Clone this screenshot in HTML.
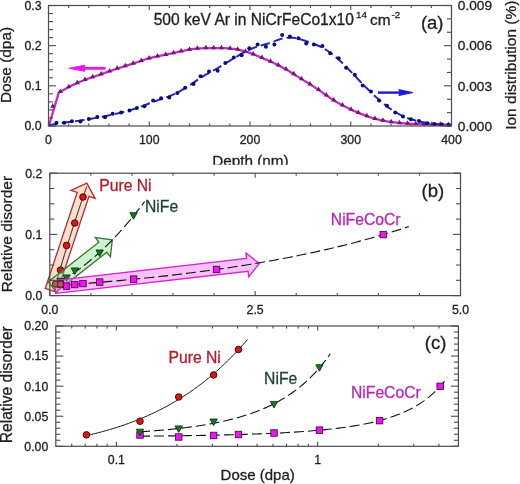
<!DOCTYPE html>
<html><head><meta charset="utf-8"><title>Figure</title>
<style>html,body{margin:0;padding:0;background:#fff;} svg{display:block;} text{font-family:'Liberation Sans', Arial, sans-serif;stroke-width:0.3px;}</style>
</head><body>
<svg width="520" height="484" viewBox="0 0 520 484">
<rect width="520" height="484" fill="#fff"/>
<path d="M48.8,126 L58.8,92.6 L60.4,91.74 L62.37,90.61 L64.33,89.48 L66.3,88.38 L68.26,87.31 L70.23,86.28 L72.19,85.3 L74.16,84.36 L76.12,83.47 L78.09,82.61 L80.05,81.79 L82.02,81 L83.98,80.24 L85.95,79.5 L87.91,78.79 L89.88,78.1 L91.85,77.41 L93.81,76.74 L95.78,76.06 L97.74,75.39 L99.71,74.71 L101.67,74.02 L103.64,73.33 L105.6,72.64 L107.57,71.95 L109.53,71.26 L111.5,70.58 L113.46,69.91 L115.43,69.25 L117.39,68.59 L119.36,67.94 L121.33,67.3 L123.29,66.66 L125.26,66.04 L127.22,65.42 L129.19,64.81 L131.15,64.19 L133.12,63.55 L135.08,62.9 L137.05,62.22 L139.01,61.54 L140.98,60.86 L142.94,60.18 L144.91,59.53 L146.87,58.92 L148.84,58.35 L150.81,57.84 L152.77,57.38 L154.74,56.95 L156.7,56.54 L158.67,56.14 L160.63,55.74 L162.6,55.33 L164.56,54.93 L166.53,54.51 L168.49,54.1 L170.46,53.68 L172.42,53.25 L174.39,52.82 L176.35,52.37 L178.32,51.92 L180.28,51.47 L182.25,51.03 L184.22,50.61 L186.18,50.21 L188.15,49.83 L190.11,49.49 L192.08,49.19 L194.04,48.93 L196.01,48.71 L197.97,48.53 L199.94,48.39 L201.9,48.29 L203.87,48.21 L205.83,48.16 L207.8,48.12 L209.76,48.1 L211.73,48.09 L213.7,48.07 L215.66,48.05 L217.63,48.04 L219.59,48.03 L221.56,48.05 L223.52,48.09 L225.49,48.17 L227.45,48.28 L229.42,48.42 L231.38,48.6 L233.35,48.83 L235.31,49.1 L237.28,49.43 L239.24,49.82 L241.21,50.27 L243.18,50.78 L245.14,51.35 L247.11,51.98 L249.07,52.66 L251.04,53.38 L253,54.14 L254.97,54.93 L256.93,55.74 L258.9,56.56 L260.86,57.4 L262.83,58.23 L264.79,59.07 L266.76,59.92 L268.72,60.77 L270.69,61.64 L272.66,62.53 L274.62,63.44 L276.59,64.38 L278.55,65.35 L280.52,66.35 L282.48,67.4 L284.45,68.48 L286.41,69.61 L288.38,70.78 L290.34,71.98 L292.31,73.2 L294.27,74.43 L296.24,75.67 L298.2,76.9 L300.17,78.14 L302.14,79.38 L304.1,80.61 L306.07,81.84 L308.03,83.08 L310,84.32 L311.96,85.56 L313.93,86.82 L315.89,88.1 L317.86,89.4 L319.82,90.75 L321.79,92.12 L323.75,93.5 L325.72,94.89 L327.68,96.27 L329.65,97.62 L331.62,98.94 L333.58,100.21 L335.55,101.43 L337.51,102.6 L339.48,103.71 L341.44,104.79 L343.41,105.83 L345.37,106.84 L347.34,107.82 L349.3,108.77 L351.27,109.69 L353.23,110.58 L355.2,111.45 L357.16,112.29 L359.13,113.11 L361.09,113.91 L363.06,114.69 L365.03,115.43 L366.99,116.15 L368.96,116.83 L370.92,117.48 L372.89,118.09 L374.85,118.66 L376.82,119.18 L378.78,119.67 L380.75,120.11 L382.71,120.53 L384.68,120.91 L386.64,121.27 L388.61,121.6 L390.57,121.9 L392.54,122.18 L394.51,122.44 L396.47,122.67 L398.44,122.88 L400.4,123.07 L402.37,123.24 L404.33,123.39 L406.3,123.53 L408.26,123.65 L410.23,123.77 L412.19,123.87 L414.16,123.96 L416.12,124.04 L418.09,124.12 L420.05,124.19 L422.02,124.25 L423.99,124.31 L425.95,124.36 L427.92,124.4 L429.88,124.45 L431.85,124.49 L433.81,124.52 L435.78,124.55 L437.74,124.58 L439.71,124.6 L441.67,124.63 L443.64,124.65 L445.6,124.68 L447.57,124.7 L449.53,124.72 L451.5,124.75" fill="none" stroke="#cc26cc" stroke-width="2.3" stroke-linejoin="round"/>
<path d="M52.7,103.29 L55.3,107.81 L50.1,107.81Z" fill="#6c1c70" stroke="none" stroke-width="0"/>
<path d="M60.4,88.43 L63,92.95 L57.8,92.95Z" fill="#6c1c70" stroke="none" stroke-width="0"/>
<path d="M68.8,83.71 L71.4,88.23 L66.2,88.23Z" fill="#6c1c70" stroke="none" stroke-width="0"/>
<path d="M77.3,79.63 L79.9,84.16 L74.7,84.16Z" fill="#6c1c70" stroke="none" stroke-width="0"/>
<path d="M85,76.54 L87.6,81.07 L82.4,81.07Z" fill="#6c1c70" stroke="none" stroke-width="0"/>
<path d="M92.7,73.8 L95.3,78.33 L90.1,78.33Z" fill="#6c1c70" stroke="none" stroke-width="0"/>
<path d="M101.2,70.87 L103.8,75.4 L98.6,75.4Z" fill="#6c1c70" stroke="none" stroke-width="0"/>
<path d="M109.6,67.92 L112.2,72.45 L107,72.45Z" fill="#6c1c70" stroke="none" stroke-width="0"/>
<path d="M117.2,65.34 L119.8,69.86 L114.6,69.86Z" fill="#6c1c70" stroke="none" stroke-width="0"/>
<path d="M125.3,62.71 L127.9,67.23 L122.7,67.23Z" fill="#6c1c70" stroke="none" stroke-width="0"/>
<path d="M133.2,60.21 L135.8,64.74 L130.6,64.74Z" fill="#6c1c70" stroke="none" stroke-width="0"/>
<path d="M141.3,57.43 L143.9,61.96 L138.7,61.96Z" fill="#6c1c70" stroke="none" stroke-width="0"/>
<path d="M149.2,54.93 L151.8,59.46 L146.6,59.46Z" fill="#6c1c70" stroke="none" stroke-width="0"/>
<path d="M157.5,53.07 L160.1,57.59 L154.9,57.59Z" fill="#6c1c70" stroke="none" stroke-width="0"/>
<path d="M165.7,51.37 L168.3,55.9 L163.1,55.9Z" fill="#6c1c70" stroke="none" stroke-width="0"/>
<path d="M173.5,49.7 L176.1,54.23 L170.9,54.23Z" fill="#6c1c70" stroke="none" stroke-width="0"/>
<path d="M181.1,47.97 L183.7,52.5 L178.5,52.5Z" fill="#6c1c70" stroke="none" stroke-width="0"/>
<path d="M189.5,46.28 L192.1,50.81 L186.9,50.81Z" fill="#6c1c70" stroke="none" stroke-width="0"/>
<path d="M197.4,45.27 L200,49.79 L194.8,49.79Z" fill="#6c1c70" stroke="none" stroke-width="0"/>
<path d="M205.9,44.84 L208.5,49.36 L203.3,49.36Z" fill="#6c1c70" stroke="none" stroke-width="0"/>
<path d="M213.7,44.76 L216.3,49.28 L211.1,49.28Z" fill="#6c1c70" stroke="none" stroke-width="0"/>
<path d="M221.4,44.73 L224,49.25 L218.8,49.25Z" fill="#6c1c70" stroke="none" stroke-width="0"/>
<path d="M230,45.16 L232.6,49.68 L227.4,49.68Z" fill="#6c1c70" stroke="none" stroke-width="0"/>
<path d="M237.7,46.2 L240.3,50.72 L235.1,50.72Z" fill="#6c1c70" stroke="none" stroke-width="0"/>
<path d="M245.5,48.14 L248.1,52.67 L242.9,52.67Z" fill="#6c1c70" stroke="none" stroke-width="0"/>
<path d="M253.2,50.9 L255.8,55.43 L250.6,55.43Z" fill="#6c1c70" stroke="none" stroke-width="0"/>
<path d="M262,54.57 L264.6,59.09 L259.4,59.09Z" fill="#6c1c70" stroke="none" stroke-width="0"/>
<path d="M270.5,58.24 L273.1,62.77 L267.9,62.77Z" fill="#6c1c70" stroke="none" stroke-width="0"/>
<path d="M278.3,61.91 L280.9,66.43 L275.7,66.43Z" fill="#6c1c70" stroke="none" stroke-width="0"/>
<path d="M286,66.06 L288.6,70.58 L283.4,70.58Z" fill="#6c1c70" stroke="none" stroke-width="0"/>
<path d="M293.8,70.82 L296.4,75.34 L291.2,75.34Z" fill="#6c1c70" stroke="none" stroke-width="0"/>
<path d="M301.5,75.66 L304.1,80.19 L298.9,80.19Z" fill="#6c1c70" stroke="none" stroke-width="0"/>
<path d="M310,81 L312.6,85.53 L307.4,85.53Z" fill="#6c1c70" stroke="none" stroke-width="0"/>
<path d="M318.6,86.59 L321.2,91.12 L316,91.12Z" fill="#6c1c70" stroke="none" stroke-width="0"/>
<path d="M326.3,91.99 L328.9,96.51 L323.7,96.51Z" fill="#6c1c70" stroke="none" stroke-width="0"/>
<path d="M333.8,97.04 L336.4,101.56 L331.2,101.56Z" fill="#6c1c70" stroke="none" stroke-width="0"/>
<path d="M342.5,102.04 L345.1,106.57 L339.9,106.57Z" fill="#6c1c70" stroke="none" stroke-width="0"/>
<path d="M351,106.25 L353.6,110.77 L348.4,110.77Z" fill="#6c1c70" stroke="none" stroke-width="0"/>
<path d="M358.3,109.45 L360.9,113.98 L355.7,113.98Z" fill="#6c1c70" stroke="none" stroke-width="0"/>
<path d="M366.8,112.77 L369.4,117.29 L364.2,117.29Z" fill="#6c1c70" stroke="none" stroke-width="0"/>
<path d="M375,115.38 L377.6,119.91 L372.4,119.91Z" fill="#6c1c70" stroke="none" stroke-width="0"/>
<path d="M383,117.27 L385.6,121.8 L380.4,121.8Z" fill="#6c1c70" stroke="none" stroke-width="0"/>
<path d="M391.2,118.68 L393.8,123.2 L388.6,123.2Z" fill="#6c1c70" stroke="none" stroke-width="0"/>
<path d="M399.5,119.67 L402.1,124.19 L396.9,124.19Z" fill="#6c1c70" stroke="none" stroke-width="0"/>
<path d="M407.6,120.3 L410.2,124.82 L405,124.82Z" fill="#6c1c70" stroke="none" stroke-width="0"/>
<path d="M415.8,120.71 L418.4,125.24 L413.2,125.24Z" fill="#6c1c70" stroke="none" stroke-width="0"/>
<path d="M424,120.99 L426.6,125.52 L421.4,125.52Z" fill="#6c1c70" stroke="none" stroke-width="0"/>
<path d="M432,121.17 L434.6,125.7 L429.4,125.7Z" fill="#6c1c70" stroke="none" stroke-width="0"/>
<path d="M440.3,121.3 L442.9,125.82 L437.7,125.82Z" fill="#6c1c70" stroke="none" stroke-width="0"/>
<path d="M448.4,121.39 L451,125.92 L445.8,125.92Z" fill="#6c1c70" stroke="none" stroke-width="0"/>
<path d="M48.5,125.4 L50.34,125.01 L52.18,124.62 L54.02,124.25 L55.86,123.9 L57.7,123.57 L59.54,123.27 L61.38,122.99 L63.22,122.72 L65.06,122.47 L66.9,122.23 L68.74,121.99 L70.58,121.77 L72.42,121.54 L74.26,121.32 L76.1,121.1 L77.94,120.87 L79.78,120.62 L81.62,120.35 L83.46,120.06 L85.3,119.76 L87.14,119.44 L88.98,119.11 L90.82,118.78 L92.66,118.45 L94.5,118.12 L96.34,117.78 L98.18,117.45 L100.03,117.12 L101.87,116.78 L103.71,116.44 L105.55,116.07 L107.39,115.69 L109.23,115.29 L111.07,114.89 L112.91,114.47 L114.75,114.06 L116.59,113.64 L118.43,113.21 L120.27,112.78 L122.11,112.33 L123.95,111.87 L125.79,111.4 L127.63,110.9 L129.47,110.39 L131.31,109.85 L133.15,109.29 L134.99,108.7 L136.83,108.09 L138.67,107.46 L140.51,106.81 L142.35,106.13 L144.19,105.44 L146.03,104.72 L147.87,103.99 L149.71,103.26 L151.55,102.54 L153.39,101.84 L155.23,101.16 L157.07,100.5 L158.91,99.86 L160.75,99.23 L162.59,98.61 L164.43,97.99 L166.27,97.34 L168.11,96.67 L169.95,95.95 L171.79,95.18 L173.63,94.36 L175.47,93.48 L177.31,92.55 L179.15,91.57 L180.99,90.54 L182.83,89.47 L184.67,88.36 L186.51,87.22 L188.35,86.05 L190.19,84.86 L192.03,83.64 L193.87,82.4 L195.71,81.15 L197.55,79.9 L199.39,78.67 L201.24,77.47 L203.08,76.32 L204.92,75.2 L206.76,74.12 L208.6,73.08 L210.44,72.06 L212.28,71.07 L214.12,70.08 L215.96,69.07 L217.8,68.04 L219.64,66.97 L221.48,65.86 L223.32,64.73 L225.16,63.59 L227,62.44 L228.84,61.3 L230.68,60.16 L232.52,59.04 L234.36,57.93 L236.2,56.84 L238.04,55.77 L239.88,54.72 L241.72,53.68 L243.56,52.66 L245.4,51.67 L247.24,50.71 L249.08,49.81 L250.92,48.97 L252.76,48.2 L254.6,47.49 L256.44,46.85 L258.28,46.27 L260.12,45.73 L261.96,45.23 L263.8,44.74 L265.64,44.23 L267.48,43.68 L269.32,43.09 L271.16,42.47 L273,41.81 L274.84,41.12 L276.68,40.42 L278.52,39.73 L280.36,39.1 L282.2,38.55 L284.04,38.13 L285.88,37.82 L287.72,37.64 L289.56,37.58 L291.4,37.64 L293.24,37.81 L295.08,38.09 L296.92,38.45 L298.76,38.89 L300.61,39.41 L302.45,39.97 L304.29,40.57 L306.13,41.19 L307.97,41.81 L309.81,42.44 L311.65,43.09 L313.49,43.76 L315.33,44.47 L317.17,45.21 L319.01,46.02 L320.85,46.89 L322.69,47.85 L324.53,48.89 L326.37,50.03 L328.21,51.24 L330.05,52.53 L331.89,53.9 L333.73,55.33 L335.57,56.83 L337.41,58.41 L339.25,60.06 L341.09,61.78 L342.93,63.55 L344.77,65.38 L346.61,67.23 L348.45,69.11 L350.29,71 L352.13,72.92 L353.97,74.85 L355.81,76.8 L357.65,78.75 L359.49,80.71 L361.33,82.64 L363.17,84.55 L365.01,86.43 L366.85,88.28 L368.69,90.1 L370.53,91.9 L372.37,93.66 L374.21,95.41 L376.05,97.11 L377.89,98.78 L379.73,100.4 L381.57,101.98 L383.41,103.5 L385.25,104.97 L387.09,106.39 L388.93,107.77 L390.77,109.09 L392.61,110.35 L394.45,111.54 L396.29,112.67 L398.13,113.72 L399.97,114.71 L401.82,115.62 L403.66,116.47 L405.5,117.25 L407.34,117.97 L409.18,118.64 L411.02,119.25 L412.86,119.81 L414.7,120.33 L416.54,120.82 L418.38,121.26 L420.22,121.68 L422.06,122.07 L423.9,122.44 L425.74,122.77 L427.58,123.07 L429.42,123.34 L431.26,123.59 L433.1,123.81 L434.94,124.01 L436.78,124.18 L438.62,124.35 L440.46,124.49 L442.3,124.63 L444.14,124.77 L445.98,124.89 L447.82,125.02 L449.66,125.15 L451.5,125.28" fill="none" stroke="#2424c0" stroke-width="2.0" stroke-dasharray="9.5,4"/>
<circle cx="56.5" cy="122.8" r="2.0" fill="#0c0c78"/>
<circle cx="64.2" cy="122.8" r="2.0" fill="#0c0c78"/>
<circle cx="71.9" cy="121.2" r="2.0" fill="#0c0c78"/>
<circle cx="80.4" cy="121.5" r="2.0" fill="#0c0c78"/>
<circle cx="88.8" cy="118.9" r="2.0" fill="#0c0c78"/>
<circle cx="97.3" cy="116.9" r="2.0" fill="#0c0c78"/>
<circle cx="105" cy="117.2" r="2.0" fill="#0c0c78"/>
<circle cx="112.7" cy="113.8" r="2.0" fill="#0c0c78"/>
<circle cx="121.2" cy="112.6" r="2.0" fill="#0c0c78"/>
<circle cx="129.5" cy="110.6" r="2.0" fill="#0c0c78"/>
<circle cx="136.9" cy="108.1" r="2.0" fill="#0c0c78"/>
<circle cx="144.4" cy="106.3" r="2.0" fill="#0c0c78"/>
<circle cx="153.1" cy="100.5" r="2.0" fill="#0c0c78"/>
<circle cx="161.1" cy="98.3" r="2.0" fill="#0c0c78"/>
<circle cx="169.2" cy="97.5" r="2.0" fill="#0c0c78"/>
<circle cx="177.3" cy="93.1" r="2.0" fill="#0c0c78"/>
<circle cx="185.2" cy="87.8" r="2.0" fill="#0c0c78"/>
<circle cx="193.5" cy="83.9" r="2.0" fill="#0c0c78"/>
<circle cx="200.5" cy="76.2" r="2.0" fill="#0c0c78"/>
<circle cx="209" cy="71.5" r="2.0" fill="#0c0c78"/>
<circle cx="217.6" cy="70.7" r="2.0" fill="#0c0c78"/>
<circle cx="225.3" cy="63" r="2.0" fill="#0c0c78"/>
<circle cx="233.8" cy="57.6" r="2.0" fill="#0c0c78"/>
<circle cx="241.6" cy="55.2" r="2.0" fill="#0c0c78"/>
<circle cx="249.3" cy="48.3" r="2.0" fill="#0c0c78"/>
<circle cx="257.6" cy="44.4" r="2.0" fill="#0c0c78"/>
<circle cx="265.9" cy="46.7" r="2.0" fill="#0c0c78"/>
<circle cx="274.4" cy="44.4" r="2.0" fill="#0c0c78"/>
<circle cx="282.1" cy="35.1" r="2.0" fill="#0c0c78"/>
<circle cx="289.9" cy="36.6" r="2.0" fill="#0c0c78"/>
<circle cx="298.4" cy="38.2" r="2.0" fill="#0c0c78"/>
<circle cx="306.2" cy="43.6" r="2.0" fill="#0c0c78"/>
<circle cx="313.9" cy="44.4" r="2.0" fill="#0c0c78"/>
<circle cx="322.4" cy="45.9" r="2.0" fill="#0c0c78"/>
<circle cx="330.2" cy="53.3" r="2.0" fill="#0c0c78"/>
<circle cx="338.7" cy="58.2" r="2.0" fill="#0c0c78"/>
<circle cx="346.1" cy="67.8" r="2.0" fill="#0c0c78"/>
<circle cx="354.8" cy="74.8" r="2.0" fill="#0c0c78"/>
<circle cx="362.7" cy="85.4" r="2.0" fill="#0c0c78"/>
<circle cx="371" cy="91.5" r="2.0" fill="#0c0c78"/>
<circle cx="379" cy="100.4" r="2.0" fill="#0c0c78"/>
<circle cx="387" cy="105.8" r="2.0" fill="#0c0c78"/>
<circle cx="395.2" cy="112.6" r="2.0" fill="#0c0c78"/>
<circle cx="403" cy="116.5" r="2.0" fill="#0c0c78"/>
<circle cx="410.8" cy="119.2" r="2.0" fill="#0c0c78"/>
<circle cx="419" cy="120.9" r="2.0" fill="#0c0c78"/>
<circle cx="427.2" cy="123.3" r="2.0" fill="#0c0c78"/>
<circle cx="434.5" cy="124.1" r="2.0" fill="#0c0c78"/>
<circle cx="441.9" cy="124.4" r="2.0" fill="#0c0c78"/>
<circle cx="448.4" cy="124.9" r="2.0" fill="#0c0c78"/>
<path d="M80,68.3 L105.5,68.3" stroke="#ee14ee" stroke-width="2.8"/>
<path d="M69.0,68.3 L84.5,65.3 L84.5,71.3 Z" fill="#ee14ee" stroke="#ee14ee" stroke-width="1" stroke-linejoin="round"/>
<path d="M378,92.6 L401,92.6" stroke="#1a1ad8" stroke-width="2.4"/>
<path d="M413.0,92.6 L398.8,89.6 L400.0,92.6 L398.8,95.6 Z" fill="#1a1ad8" stroke="#1a1ad8" stroke-width="0.9" stroke-linejoin="round"/>
<rect x="48.5" y="5.5" width="403" height="120.5" fill="none" stroke="#4c4c4c" stroke-width="1.2"/>
<line x1="48.5" y1="126" x2="48.5" y2="121.5" stroke="#4c4c4c" stroke-width="1.1" />
<line x1="48.5" y1="5.5" x2="48.5" y2="10" stroke="#4c4c4c" stroke-width="1.1" />
<line x1="149.25" y1="126" x2="149.25" y2="121.5" stroke="#4c4c4c" stroke-width="1.1" />
<line x1="149.25" y1="5.5" x2="149.25" y2="10" stroke="#4c4c4c" stroke-width="1.1" />
<line x1="250" y1="126" x2="250" y2="121.5" stroke="#4c4c4c" stroke-width="1.1" />
<line x1="250" y1="5.5" x2="250" y2="10" stroke="#4c4c4c" stroke-width="1.1" />
<line x1="350.75" y1="126" x2="350.75" y2="121.5" stroke="#4c4c4c" stroke-width="1.1" />
<line x1="350.75" y1="5.5" x2="350.75" y2="10" stroke="#4c4c4c" stroke-width="1.1" />
<line x1="451.5" y1="126" x2="451.5" y2="121.5" stroke="#4c4c4c" stroke-width="1.1" />
<line x1="451.5" y1="5.5" x2="451.5" y2="10" stroke="#4c4c4c" stroke-width="1.1" />
<line x1="68.65" y1="126" x2="68.65" y2="123.4" stroke="#4c4c4c" stroke-width="1.1" />
<line x1="68.65" y1="5.5" x2="68.65" y2="8.1" stroke="#4c4c4c" stroke-width="1.1" />
<line x1="88.8" y1="126" x2="88.8" y2="123.4" stroke="#4c4c4c" stroke-width="1.1" />
<line x1="88.8" y1="5.5" x2="88.8" y2="8.1" stroke="#4c4c4c" stroke-width="1.1" />
<line x1="108.95" y1="126" x2="108.95" y2="123.4" stroke="#4c4c4c" stroke-width="1.1" />
<line x1="108.95" y1="5.5" x2="108.95" y2="8.1" stroke="#4c4c4c" stroke-width="1.1" />
<line x1="129.1" y1="126" x2="129.1" y2="123.4" stroke="#4c4c4c" stroke-width="1.1" />
<line x1="129.1" y1="5.5" x2="129.1" y2="8.1" stroke="#4c4c4c" stroke-width="1.1" />
<line x1="169.4" y1="126" x2="169.4" y2="123.4" stroke="#4c4c4c" stroke-width="1.1" />
<line x1="169.4" y1="5.5" x2="169.4" y2="8.1" stroke="#4c4c4c" stroke-width="1.1" />
<line x1="189.55" y1="126" x2="189.55" y2="123.4" stroke="#4c4c4c" stroke-width="1.1" />
<line x1="189.55" y1="5.5" x2="189.55" y2="8.1" stroke="#4c4c4c" stroke-width="1.1" />
<line x1="209.7" y1="126" x2="209.7" y2="123.4" stroke="#4c4c4c" stroke-width="1.1" />
<line x1="209.7" y1="5.5" x2="209.7" y2="8.1" stroke="#4c4c4c" stroke-width="1.1" />
<line x1="229.85" y1="126" x2="229.85" y2="123.4" stroke="#4c4c4c" stroke-width="1.1" />
<line x1="229.85" y1="5.5" x2="229.85" y2="8.1" stroke="#4c4c4c" stroke-width="1.1" />
<line x1="270.15" y1="126" x2="270.15" y2="123.4" stroke="#4c4c4c" stroke-width="1.1" />
<line x1="270.15" y1="5.5" x2="270.15" y2="8.1" stroke="#4c4c4c" stroke-width="1.1" />
<line x1="290.3" y1="126" x2="290.3" y2="123.4" stroke="#4c4c4c" stroke-width="1.1" />
<line x1="290.3" y1="5.5" x2="290.3" y2="8.1" stroke="#4c4c4c" stroke-width="1.1" />
<line x1="310.45" y1="126" x2="310.45" y2="123.4" stroke="#4c4c4c" stroke-width="1.1" />
<line x1="310.45" y1="5.5" x2="310.45" y2="8.1" stroke="#4c4c4c" stroke-width="1.1" />
<line x1="330.6" y1="126" x2="330.6" y2="123.4" stroke="#4c4c4c" stroke-width="1.1" />
<line x1="330.6" y1="5.5" x2="330.6" y2="8.1" stroke="#4c4c4c" stroke-width="1.1" />
<line x1="370.9" y1="126" x2="370.9" y2="123.4" stroke="#4c4c4c" stroke-width="1.1" />
<line x1="370.9" y1="5.5" x2="370.9" y2="8.1" stroke="#4c4c4c" stroke-width="1.1" />
<line x1="391.05" y1="126" x2="391.05" y2="123.4" stroke="#4c4c4c" stroke-width="1.1" />
<line x1="391.05" y1="5.5" x2="391.05" y2="8.1" stroke="#4c4c4c" stroke-width="1.1" />
<line x1="411.2" y1="126" x2="411.2" y2="123.4" stroke="#4c4c4c" stroke-width="1.1" />
<line x1="411.2" y1="5.5" x2="411.2" y2="8.1" stroke="#4c4c4c" stroke-width="1.1" />
<line x1="431.35" y1="126" x2="431.35" y2="123.4" stroke="#4c4c4c" stroke-width="1.1" />
<line x1="431.35" y1="5.5" x2="431.35" y2="8.1" stroke="#4c4c4c" stroke-width="1.1" />
<line x1="48.5" y1="126" x2="56" y2="126" stroke="#4c4c4c" stroke-width="1.1" />
<line x1="48.5" y1="85.83" x2="56" y2="85.83" stroke="#4c4c4c" stroke-width="1.1" />
<line x1="48.5" y1="45.67" x2="56" y2="45.67" stroke="#4c4c4c" stroke-width="1.1" />
<line x1="48.5" y1="5.5" x2="56" y2="5.5" stroke="#4c4c4c" stroke-width="1.1" />
<line x1="48.5" y1="117.97" x2="53" y2="117.97" stroke="#4c4c4c" stroke-width="1.1" />
<line x1="48.5" y1="109.93" x2="53" y2="109.93" stroke="#4c4c4c" stroke-width="1.1" />
<line x1="48.5" y1="101.9" x2="53" y2="101.9" stroke="#4c4c4c" stroke-width="1.1" />
<line x1="48.5" y1="93.87" x2="53" y2="93.87" stroke="#4c4c4c" stroke-width="1.1" />
<line x1="48.5" y1="77.8" x2="53" y2="77.8" stroke="#4c4c4c" stroke-width="1.1" />
<line x1="48.5" y1="69.77" x2="53" y2="69.77" stroke="#4c4c4c" stroke-width="1.1" />
<line x1="48.5" y1="61.73" x2="53" y2="61.73" stroke="#4c4c4c" stroke-width="1.1" />
<line x1="48.5" y1="53.7" x2="53" y2="53.7" stroke="#4c4c4c" stroke-width="1.1" />
<line x1="48.5" y1="37.63" x2="53" y2="37.63" stroke="#4c4c4c" stroke-width="1.1" />
<line x1="48.5" y1="29.6" x2="53" y2="29.6" stroke="#4c4c4c" stroke-width="1.1" />
<line x1="48.5" y1="21.57" x2="53" y2="21.57" stroke="#4c4c4c" stroke-width="1.1" />
<line x1="48.5" y1="13.53" x2="53" y2="13.53" stroke="#4c4c4c" stroke-width="1.1" />
<line x1="451.5" y1="126" x2="444" y2="126" stroke="#4c4c4c" stroke-width="1.1" />
<line x1="451.5" y1="85.83" x2="444" y2="85.83" stroke="#4c4c4c" stroke-width="1.1" />
<line x1="451.5" y1="45.67" x2="444" y2="45.67" stroke="#4c4c4c" stroke-width="1.1" />
<line x1="451.5" y1="5.5" x2="444" y2="5.5" stroke="#4c4c4c" stroke-width="1.1" />
<line x1="451.5" y1="112.61" x2="447" y2="112.61" stroke="#4c4c4c" stroke-width="1.1" />
<line x1="451.5" y1="99.22" x2="447" y2="99.22" stroke="#4c4c4c" stroke-width="1.1" />
<line x1="451.5" y1="72.44" x2="447" y2="72.44" stroke="#4c4c4c" stroke-width="1.1" />
<line x1="451.5" y1="59.06" x2="447" y2="59.06" stroke="#4c4c4c" stroke-width="1.1" />
<line x1="451.5" y1="32.28" x2="447" y2="32.28" stroke="#4c4c4c" stroke-width="1.1" />
<line x1="451.5" y1="18.89" x2="447" y2="18.89" stroke="#4c4c4c" stroke-width="1.1" />
<text x="41.6" y="130.4" font-size="12.3" text-anchor="end" fill="#1e1e1e" stroke="#1e1e1e" >0.0</text>
<text x="41.6" y="90.23" font-size="12.3" text-anchor="end" fill="#1e1e1e" stroke="#1e1e1e" >0.1</text>
<text x="41.6" y="50.07" font-size="12.3" text-anchor="end" fill="#1e1e1e" stroke="#1e1e1e" >0.2</text>
<text x="41.6" y="9.9" font-size="12.3" text-anchor="end" fill="#1e1e1e" stroke="#1e1e1e" >0.3</text>
<text x="457.8" y="130.8" font-size="13.7" text-anchor="start" fill="#1e1e1e" stroke="#1e1e1e" >0.000</text>
<text x="457.8" y="90.63" font-size="13.7" text-anchor="start" fill="#1e1e1e" stroke="#1e1e1e" >0.003</text>
<text x="457.8" y="50.47" font-size="13.7" text-anchor="start" fill="#1e1e1e" stroke="#1e1e1e" >0.006</text>
<text x="457.8" y="10.3" font-size="13.7" text-anchor="start" fill="#1e1e1e" stroke="#1e1e1e" >0.009</text>
<text x="48.5" y="144.2" font-size="12.3" text-anchor="middle" fill="#1e1e1e" stroke="#1e1e1e" >0</text>
<text x="149.25" y="144.2" font-size="12.3" text-anchor="middle" fill="#1e1e1e" stroke="#1e1e1e" >100</text>
<text x="250" y="144.2" font-size="12.3" text-anchor="middle" fill="#1e1e1e" stroke="#1e1e1e" >200</text>
<text x="350.75" y="144.2" font-size="12.3" text-anchor="middle" fill="#1e1e1e" stroke="#1e1e1e" >300</text>
<text x="451.5" y="144.2" font-size="12.3" text-anchor="middle" fill="#1e1e1e" stroke="#1e1e1e" >400</text>
<text x="153.7" y="24.5" font-size="15.6" fill="#1e1e1e" stroke="#1e1e1e">500 keV Ar in NiCrFeCo1x10</text>
<text x="356" y="17.7" font-size="9.8" text-anchor="start" fill="#1e1e1e" stroke="#1e1e1e" >14</text>
<text x="370" y="24.5" font-size="15.4" text-anchor="start" fill="#1e1e1e" stroke="#1e1e1e" >cm</text>
<text x="391.6" y="17.7" font-size="9.8" text-anchor="start" fill="#1e1e1e" stroke="#1e1e1e" >-2</text>
<text x="432.2" y="29.3" font-size="18.5" text-anchor="middle" fill="#1e1e1e" stroke="#1e1e1e" >(a)</text>
<text transform="translate(11.3,65.0) rotate(-90)" font-size="15.4" text-anchor="middle" fill="#1e1e1e" stroke="#1e1e1e">Dose (dpa)</text>
<text transform="translate(516.0,65.2) rotate(-90)" font-size="15.5" text-anchor="middle" fill="#1e1e1e" stroke="#1e1e1e">Ion distribution (%)</text>
<clipPath id="dclip"><rect x="150" y="145" width="200" height="19.7"/></clipPath>
<text x="250.4" y="165.6" font-size="15.3" text-anchor="middle" fill="#1e1e1e" stroke="#1e1e1e" clip-path="url(#dclip)">Depth (nm)</text>
<path d="M57.03,292.36 L88.96,196.35 L95.17,198.42 L86.8,183.2 L70.98,190.37 L77.19,192.44 L45.27,288.44Z" fill="#f5a070" fill-opacity="0.36" stroke="#a83030" stroke-width="1.3" stroke-linejoin="miter"/>
<path d="M55.63,284.74 L55.89,283.83 L56.16,282.92 L56.42,282.01 L56.68,281.1 L56.94,280.19 L57.2,279.28 L57.46,278.38 L57.72,277.47 L57.99,276.57 L58.25,275.67 L58.51,274.77 L58.77,273.88 L59.03,272.98 L59.29,272.08 L59.56,271.19 L59.82,270.3 L60.08,269.41 L60.34,268.52 L60.6,267.64 L60.86,266.75 L61.13,265.87 L61.39,264.98 L61.65,264.1 L61.91,263.22 L62.17,262.35 L62.43,261.47 L62.7,260.59 L62.96,259.72 L63.22,258.85 L63.48,257.98 L63.74,257.11 L64,256.24 L64.26,255.38 L64.53,254.51 L64.79,253.65 L65.05,252.79 L65.31,251.93 L65.57,251.07 L65.83,250.21 L66.1,249.36 L66.36,248.5 L66.62,247.65 L66.88,246.8 L67.14,245.95 L67.4,245.1 L67.67,244.26 L67.93,243.41 L68.19,242.57 L68.45,241.73 L68.71,240.89 L68.97,240.05 L69.24,239.21 L69.5,238.38 L69.76,237.54 L70.02,236.71 L70.28,235.88 L70.54,235.05 L70.81,234.22 L71.07,233.39 L71.33,232.57 L71.59,231.74 L71.85,230.92 L72.11,230.1 L72.37,229.28 L72.64,228.46 L72.9,227.65 L73.16,226.83 L73.42,226.02 L73.68,225.21 L73.94,224.4 L74.21,223.59 L74.47,222.78 L74.73,221.98 L74.99,221.17 L75.25,220.37 L75.51,219.57 L75.78,218.77 L76.04,217.97 L76.3,217.17 L76.56,216.38 L76.82,215.59 L77.08,214.79 L77.35,214 L77.61,213.21 L77.87,212.43 L78.13,211.64 L78.39,210.86 L78.65,210.07 L78.91,209.29 L79.18,208.51 L79.44,207.73 L79.7,206.95 L79.96,206.18 L80.22,205.41 L80.48,204.63 L80.75,203.86 L81.01,203.09 L81.27,202.32 L81.53,201.56 L81.79,200.79 L82.05,200.03 L82.32,199.27 L82.58,198.51 L82.84,197.75 L83.1,196.99 L83.36,196.23 L83.62,195.48 L83.89,194.73 L84.15,193.97 L84.41,193.22 L84.67,192.48 L84.93,191.73 L85.19,190.98 L85.45,190.24 L85.72,189.5 L85.98,188.76 L86.24,188.02 L86.5,187.28 L86.76,186.54" fill="none" stroke="#111" stroke-width="1"/>
<circle cx="55.63" cy="283.97" r="3.3" fill="#e01414" stroke="#3a0000" stroke-width="0.9"/>
<circle cx="60.56" cy="270.08" r="3.3" fill="#e01414" stroke="#3a0000" stroke-width="0.9"/>
<circle cx="66.56" cy="245.42" r="3.3" fill="#e01414" stroke="#3a0000" stroke-width="0.9"/>
<circle cx="74.77" cy="223.02" r="3.3" fill="#e01414" stroke="#3a0000" stroke-width="0.9"/>
<circle cx="82.98" cy="197.07" r="3.3" fill="#e01414" stroke="#3a0000" stroke-width="0.9"/>
<path d="M56.15,291.94 L106.8,252.24 L110.41,256.84 L112.3,239.8 L95.3,237.56 L98.91,242.16 L48.25,281.86Z" fill="#90e890" fill-opacity="0.45" stroke="#347434" stroke-width="1.3" stroke-linejoin="miter"/>
<path d="M60.56,280.89 L61.27,280.5 L61.97,280.1 L62.68,279.71 L63.39,279.3 L64.09,278.89 L64.8,278.48 L65.51,278.06 L66.21,277.64 L66.92,277.21 L67.63,276.78 L68.34,276.34 L69.04,275.9 L69.75,275.46 L70.46,275.01 L71.16,274.55 L71.87,274.09 L72.58,273.63 L73.28,273.16 L73.99,272.68 L74.7,272.2 L75.4,271.72 L76.11,271.23 L76.82,270.74 L77.52,270.24 L78.23,269.74 L78.94,269.23 L79.64,268.72 L80.35,268.2 L81.06,267.68 L81.76,267.15 L82.47,266.62 L83.18,266.09 L83.89,265.55 L84.59,265 L85.3,264.45 L86.01,263.9 L86.71,263.34 L87.42,262.77 L88.13,262.21 L88.83,261.63 L89.54,261.06 L90.25,260.47 L90.95,259.89 L91.66,259.29 L92.37,258.7 L93.07,258.1 L93.78,257.49 L94.49,256.88 L95.19,256.26 L95.9,255.64 L96.61,255.02 L97.31,254.39 L98.02,253.75 L98.73,253.11 L99.44,252.47 L100.14,251.82 L100.85,251.17 L101.56,250.51 L102.26,249.85 L102.97,249.18 L103.68,248.51 L104.38,247.83 L105.09,247.15 L105.8,246.46 L106.5,245.77 L107.21,245.08 L107.92,244.38 L108.62,243.67 L109.33,242.96 L110.04,242.25 L110.74,241.53 L111.45,240.81 L112.16,240.08 L112.86,239.34 L113.57,238.61 L114.28,237.86 L114.99,237.12 L115.69,236.36 L116.4,235.61 L117.11,234.85 L117.81,234.08 L118.52,233.31 L119.23,232.53 L119.93,231.75 L120.64,230.97 L121.35,230.18 L122.05,229.38 L122.76,228.58 L123.47,227.78 L124.17,226.97 L124.88,226.16 L125.59,225.34 L126.29,224.52 L127,223.69 L127.71,222.86 L128.41,222.02 L129.12,221.18 L129.83,220.33 L130.54,219.48 L131.24,218.63 L131.95,217.77 L132.66,216.9 L133.36,216.03 L134.07,215.16 L134.78,214.28 L135.48,213.39 L136.19,212.51 L136.9,211.61 L137.6,210.71 L138.31,209.81 L139.02,208.9 L139.72,207.99 L140.43,207.08 L141.14,206.15 L141.84,205.23 L142.55,204.3 L143.26,203.36 L143.96,202.42 L144.67,201.48" fill="none" stroke="#111" stroke-width="1.1" stroke-dasharray="10,4"/>
<path d="M56.86,278.25 L64.26,278.25 L60.56,284.85Z" fill="#127a22" stroke="#062a06" stroke-width="0.8"/>
<path d="M62.86,274.88 L70.26,274.88 L66.56,281.48Z" fill="#127a22" stroke="#062a06" stroke-width="0.8"/>
<path d="M71.07,267.91 L78.47,267.91 L74.77,274.51Z" fill="#127a22" stroke="#062a06" stroke-width="0.8"/>
<path d="M95.96,249.97 L103.36,249.97 L99.66,256.57Z" fill="#127a22" stroke="#062a06" stroke-width="0.8"/>
<path d="M129.88,212.64 L137.28,212.64 L133.58,219.24Z" fill="#127a22" stroke="#062a06" stroke-width="0.8"/>
<path d="M55.74,293.41 L248.12,271.28 L248.75,276.79 L259.3,263.5 L246.01,252.95 L246.64,258.46 L54.26,280.59Z" fill="#f070f0" fill-opacity="0.45" stroke="#d424d4" stroke-width="1.3" stroke-linejoin="miter"/>
<path d="M60.56,285.31 L63.49,285.1 L66.41,284.89 L69.34,284.68 L72.26,284.46 L75.19,284.24 L78.12,284.02 L81.04,283.8 L83.97,283.57 L86.89,283.34 L89.82,283.11 L92.75,282.87 L95.67,282.63 L98.6,282.39 L101.52,282.14 L104.45,281.89 L107.38,281.64 L110.3,281.38 L113.23,281.12 L116.15,280.86 L119.08,280.6 L122.01,280.33 L124.93,280.05 L127.86,279.78 L130.78,279.5 L133.71,279.21 L136.64,278.93 L139.56,278.63 L142.49,278.34 L145.41,278.04 L148.34,277.74 L151.27,277.43 L154.19,277.12 L157.12,276.8 L160.04,276.49 L162.97,276.16 L165.9,275.83 L168.82,275.5 L171.75,275.17 L174.67,274.83 L177.6,274.48 L180.53,274.13 L183.45,273.78 L186.38,273.42 L189.3,273.06 L192.23,272.69 L195.16,272.32 L198.08,271.94 L201.01,271.55 L203.93,271.17 L206.86,270.77 L209.79,270.38 L212.71,269.97 L215.64,269.56 L218.56,269.15 L221.49,268.73 L224.42,268.31 L227.34,267.88 L230.27,267.44 L233.19,267 L236.12,266.55 L239.05,266.1 L241.97,265.64 L244.9,265.17 L247.82,264.7 L250.75,264.23 L253.67,263.74 L256.6,263.25 L259.53,262.76 L262.45,262.25 L265.38,261.74 L268.3,261.23 L271.23,260.7 L274.16,260.17 L277.08,259.64 L280.01,259.09 L282.93,258.54 L285.86,257.99 L288.79,257.42 L291.71,256.85 L294.64,256.27 L297.56,255.68 L300.49,255.08 L303.42,254.48 L306.34,253.87 L309.27,253.25 L312.19,252.62 L315.12,251.99 L318.05,251.34 L320.97,250.69 L323.9,250.03 L326.82,249.36 L329.75,248.68 L332.68,248 L335.6,247.3 L338.53,246.6 L341.45,245.88 L344.38,245.16 L347.31,244.42 L350.23,243.68 L353.16,242.93 L356.08,242.17 L359.01,241.39 L361.94,240.61 L364.86,239.82 L367.79,239.02 L370.71,238.2 L373.64,237.38 L376.57,236.54 L379.49,235.7 L382.42,234.84 L385.34,233.97 L388.27,233.09 L391.2,232.2 L394.12,231.3 L397.05,230.39 L399.97,229.46 L402.9,228.52 L405.83,227.57 L408.75,226.61" fill="none" stroke="#111" stroke-width="1.1" stroke-dasharray="10,4"/>
<rect x="57.31" y="280.84" width="6.5" height="6.5" fill="#ee14ee" stroke="#3a003a" stroke-width="0.8"/>
<rect x="63.31" y="282.86" width="6.5" height="6.5" fill="#ee14ee" stroke="#3a003a" stroke-width="0.8"/>
<rect x="71.52" y="281.33" width="6.5" height="6.5" fill="#ee14ee" stroke="#3a003a" stroke-width="0.8"/>
<rect x="79.73" y="280.35" width="6.5" height="6.5" fill="#ee14ee" stroke="#3a003a" stroke-width="0.8"/>
<rect x="96.41" y="278.82" width="6.5" height="6.5" fill="#ee14ee" stroke="#3a003a" stroke-width="0.8"/>
<rect x="130.33" y="275.89" width="6.5" height="6.5" fill="#ee14ee" stroke="#3a003a" stroke-width="0.8"/>
<rect x="213.29" y="266.22" width="6.5" height="6.5" fill="#ee14ee" stroke="#3a003a" stroke-width="0.8"/>
<rect x="380.04" y="231.33" width="6.5" height="6.5" fill="#ee14ee" stroke="#3a003a" stroke-width="0.8"/>
<circle cx="55.4" cy="284.0" r="3.1" fill="#b05a5a" stroke="#5a2020" stroke-width="0.9"/>
<circle cx="60.4" cy="284.3" r="3.1" fill="#b05a5a" stroke="#5a2020" stroke-width="0.9"/>
<rect x="49.8" y="173.2" width="410.7" height="122.4" fill="none" stroke="#4c4c4c" stroke-width="1.2"/>
<line x1="49.8" y1="295.6" x2="49.8" y2="291.1" stroke="#4c4c4c" stroke-width="1.1" />
<line x1="49.8" y1="173.2" x2="49.8" y2="177.7" stroke="#4c4c4c" stroke-width="1.1" />
<line x1="255.15" y1="295.6" x2="255.15" y2="291.1" stroke="#4c4c4c" stroke-width="1.1" />
<line x1="255.15" y1="173.2" x2="255.15" y2="177.7" stroke="#4c4c4c" stroke-width="1.1" />
<line x1="460.5" y1="295.6" x2="460.5" y2="291.1" stroke="#4c4c4c" stroke-width="1.1" />
<line x1="460.5" y1="173.2" x2="460.5" y2="177.7" stroke="#4c4c4c" stroke-width="1.1" />
<line x1="90.87" y1="295.6" x2="90.87" y2="293" stroke="#4c4c4c" stroke-width="1.1" />
<line x1="90.87" y1="173.2" x2="90.87" y2="175.8" stroke="#4c4c4c" stroke-width="1.1" />
<line x1="131.94" y1="295.6" x2="131.94" y2="293" stroke="#4c4c4c" stroke-width="1.1" />
<line x1="131.94" y1="173.2" x2="131.94" y2="175.8" stroke="#4c4c4c" stroke-width="1.1" />
<line x1="173.01" y1="295.6" x2="173.01" y2="293" stroke="#4c4c4c" stroke-width="1.1" />
<line x1="173.01" y1="173.2" x2="173.01" y2="175.8" stroke="#4c4c4c" stroke-width="1.1" />
<line x1="214.08" y1="295.6" x2="214.08" y2="293" stroke="#4c4c4c" stroke-width="1.1" />
<line x1="214.08" y1="173.2" x2="214.08" y2="175.8" stroke="#4c4c4c" stroke-width="1.1" />
<line x1="296.22" y1="295.6" x2="296.22" y2="293" stroke="#4c4c4c" stroke-width="1.1" />
<line x1="296.22" y1="173.2" x2="296.22" y2="175.8" stroke="#4c4c4c" stroke-width="1.1" />
<line x1="337.29" y1="295.6" x2="337.29" y2="293" stroke="#4c4c4c" stroke-width="1.1" />
<line x1="337.29" y1="173.2" x2="337.29" y2="175.8" stroke="#4c4c4c" stroke-width="1.1" />
<line x1="378.36" y1="295.6" x2="378.36" y2="293" stroke="#4c4c4c" stroke-width="1.1" />
<line x1="378.36" y1="173.2" x2="378.36" y2="175.8" stroke="#4c4c4c" stroke-width="1.1" />
<line x1="419.43" y1="295.6" x2="419.43" y2="293" stroke="#4c4c4c" stroke-width="1.1" />
<line x1="419.43" y1="173.2" x2="419.43" y2="175.8" stroke="#4c4c4c" stroke-width="1.1" />
<line x1="49.8" y1="295.6" x2="57.3" y2="295.6" stroke="#4c4c4c" stroke-width="1.1" />
<line x1="49.8" y1="234.4" x2="57.3" y2="234.4" stroke="#4c4c4c" stroke-width="1.1" />
<line x1="49.8" y1="173.2" x2="57.3" y2="173.2" stroke="#4c4c4c" stroke-width="1.1" />
<line x1="49.8" y1="280.3" x2="54.3" y2="280.3" stroke="#4c4c4c" stroke-width="1.1" />
<line x1="49.8" y1="265" x2="54.3" y2="265" stroke="#4c4c4c" stroke-width="1.1" />
<line x1="49.8" y1="249.7" x2="54.3" y2="249.7" stroke="#4c4c4c" stroke-width="1.1" />
<line x1="49.8" y1="219.1" x2="54.3" y2="219.1" stroke="#4c4c4c" stroke-width="1.1" />
<line x1="49.8" y1="203.8" x2="54.3" y2="203.8" stroke="#4c4c4c" stroke-width="1.1" />
<line x1="49.8" y1="188.5" x2="54.3" y2="188.5" stroke="#4c4c4c" stroke-width="1.1" />
<line x1="460.5" y1="295.6" x2="453" y2="295.6" stroke="#4c4c4c" stroke-width="1.1" />
<line x1="460.5" y1="234.4" x2="453" y2="234.4" stroke="#4c4c4c" stroke-width="1.1" />
<line x1="460.5" y1="173.2" x2="453" y2="173.2" stroke="#4c4c4c" stroke-width="1.1" />
<line x1="460.5" y1="280.3" x2="456" y2="280.3" stroke="#4c4c4c" stroke-width="1.1" />
<line x1="460.5" y1="265" x2="456" y2="265" stroke="#4c4c4c" stroke-width="1.1" />
<line x1="460.5" y1="249.7" x2="456" y2="249.7" stroke="#4c4c4c" stroke-width="1.1" />
<line x1="460.5" y1="219.1" x2="456" y2="219.1" stroke="#4c4c4c" stroke-width="1.1" />
<line x1="460.5" y1="203.8" x2="456" y2="203.8" stroke="#4c4c4c" stroke-width="1.1" />
<line x1="460.5" y1="188.5" x2="456" y2="188.5" stroke="#4c4c4c" stroke-width="1.1" />
<text x="42.4" y="300" font-size="12.3" text-anchor="end" fill="#1e1e1e" stroke="#1e1e1e" >0.0</text>
<text x="42.4" y="238.8" font-size="12.3" text-anchor="end" fill="#1e1e1e" stroke="#1e1e1e" >0.1</text>
<text x="42.4" y="177.6" font-size="12.3" text-anchor="end" fill="#1e1e1e" stroke="#1e1e1e" >0.2</text>
<text x="49.8" y="314" font-size="12.3" text-anchor="middle" fill="#1e1e1e" stroke="#1e1e1e" >0.0</text>
<text x="255.15" y="314" font-size="12.3" text-anchor="middle" fill="#1e1e1e" stroke="#1e1e1e" >2.5</text>
<text x="460.5" y="314" font-size="12.3" text-anchor="middle" fill="#1e1e1e" stroke="#1e1e1e" >5.0</text>
<text x="432.9" y="197.3" font-size="18.5" text-anchor="middle" fill="#1e1e1e" stroke="#1e1e1e" >(b)</text>
<text transform="translate(11.6,234.0) rotate(-90)" font-size="15.5" text-anchor="middle" fill="#1e1e1e" stroke="#1e1e1e">Relative disorder</text>
<text x="99.3" y="190.6" font-size="15.7" text-anchor="start" fill="#b41c2c" stroke="#b41c2c" >Pure Ni</text>
<text x="145" y="212.4" font-size="15.7" text-anchor="start" fill="#1f4430" stroke="#1f4430" >NiFe</text>
<text x="330.8" y="225.2" font-size="15.7" text-anchor="start" fill="#ba28ba" stroke="#ba28ba" >NiFeCoCr</text>
<path d="M86.46,435.63 L87.81,435.32 L89.16,435 L90.52,434.68 L91.87,434.35 L93.22,434.02 L94.58,433.68 L95.93,433.34 L97.28,432.99 L98.64,432.64 L99.99,432.28 L101.34,431.92 L102.7,431.55 L104.05,431.18 L105.4,430.8 L106.76,430.42 L108.11,430.03 L109.46,429.63 L110.82,429.23 L112.17,428.82 L113.52,428.41 L114.88,427.99 L116.23,427.56 L117.58,427.13 L118.94,426.69 L120.29,426.24 L121.64,425.79 L123,425.33 L124.35,424.86 L125.7,424.39 L127.05,423.91 L128.41,423.43 L129.76,422.93 L131.11,422.43 L132.47,421.92 L133.82,421.41 L135.17,420.88 L136.53,420.35 L137.88,419.82 L139.23,419.27 L140.59,418.72 L141.94,418.15 L143.29,417.58 L144.65,417 L146,416.42 L147.35,415.82 L148.71,415.22 L150.06,414.61 L151.41,413.98 L152.77,413.35 L154.12,412.71 L155.47,412.07 L156.83,411.41 L158.18,410.74 L159.53,410.06 L160.89,409.38 L162.24,408.68 L163.59,407.98 L164.95,407.26 L166.3,406.53 L167.65,405.8 L169.01,405.05 L170.36,404.29 L171.71,403.53 L173.07,402.75 L174.42,401.96 L175.77,401.16 L177.13,400.35 L178.48,399.53 L179.83,398.69 L181.19,397.85 L182.54,396.99 L183.89,396.12 L185.25,395.24 L186.6,394.35 L187.95,393.44 L189.31,392.53 L190.66,391.6 L192.01,390.65 L193.37,389.7 L194.72,388.73 L196.07,387.75 L197.43,386.76 L198.78,385.75 L200.13,384.73 L201.49,383.69 L202.84,382.65 L204.19,381.58 L205.55,380.51 L206.9,379.42 L208.25,378.32 L209.61,377.2 L210.96,376.07 L212.31,374.92 L213.67,373.76 L215.02,372.58 L216.37,371.39 L217.73,370.18 L219.08,368.96 L220.43,367.72 L221.79,366.47 L223.14,365.2 L224.49,363.92 L225.85,362.62 L227.2,361.3 L228.55,359.97 L229.91,358.62 L231.26,357.25 L232.61,355.87 L233.97,354.47 L235.32,353.06 L236.67,351.63 L238.03,350.18 L239.38,348.72 L240.73,347.23 L242.09,345.74 L243.44,344.22 L244.79,342.69 L246.15,341.14 L247.5,339.57" fill="none" stroke="#111" stroke-width="1"/>
<path d="M140,431.84 L141.6,431.73 L143.2,431.62 L144.8,431.51 L146.4,431.4 L148,431.28 L149.6,431.16 L151.2,431.04 L152.8,430.91 L154.4,430.79 L155.99,430.66 L157.59,430.52 L159.19,430.39 L160.79,430.25 L162.39,430.1 L163.99,429.96 L165.59,429.81 L167.19,429.66 L168.79,429.5 L170.39,429.34 L171.99,429.18 L173.58,429.01 L175.18,428.84 L176.78,428.66 L178.38,428.48 L179.98,428.3 L181.58,428.11 L183.18,427.92 L184.78,427.73 L186.38,427.52 L187.98,427.32 L189.58,427.11 L191.17,426.89 L192.77,426.67 L194.37,426.44 L195.97,426.21 L197.57,425.98 L199.17,425.73 L200.77,425.48 L202.37,425.23 L203.97,424.97 L205.57,424.7 L207.17,424.43 L208.76,424.15 L210.36,423.86 L211.96,423.56 L213.56,423.26 L215.16,422.95 L216.76,422.63 L218.36,422.31 L219.96,421.98 L221.56,421.63 L223.16,421.28 L224.76,420.92 L226.35,420.55 L227.95,420.18 L229.55,419.79 L231.15,419.39 L232.75,418.98 L234.35,418.56 L235.95,418.14 L237.55,417.69 L239.15,417.24 L240.75,416.78 L242.35,416.3 L243.94,415.81 L245.54,415.31 L247.14,414.8 L248.74,414.27 L250.34,413.73 L251.94,413.17 L253.54,412.6 L255.14,412.01 L256.74,411.41 L258.34,410.79 L259.94,410.15 L261.53,409.49 L263.13,408.82 L264.73,408.13 L266.33,407.42 L267.93,406.69 L269.53,405.94 L271.13,405.17 L272.73,404.38 L274.33,403.57 L275.93,402.73 L277.53,401.87 L279.12,400.99 L280.72,400.08 L282.32,399.14 L283.92,398.18 L285.52,397.19 L287.12,396.17 L288.72,395.12 L290.32,394.05 L291.92,392.94 L293.52,391.8 L295.12,390.62 L296.71,389.42 L298.31,388.17 L299.91,386.89 L301.51,385.57 L303.11,384.22 L304.71,382.82 L306.31,381.38 L307.91,379.9 L309.51,378.37 L311.11,376.8 L312.71,375.19 L314.3,373.52 L315.9,371.8 L317.5,370.03 L319.1,368.21 L320.7,366.33 L322.3,364.4 L323.9,362.4 L325.5,360.35 L327.1,358.23 L328.7,356.04 L330.3,353.79" fill="none" stroke="#111" stroke-width="1.1" stroke-dasharray="10,4"/>
<path d="M140,436.19 L142.59,436.16 L145.17,436.14 L147.75,436.12 L150.33,436.09 L152.91,436.07 L155.49,436.04 L158.08,436.01 L160.66,435.99 L163.24,435.96 L165.82,435.93 L168.4,435.9 L170.98,435.87 L173.57,435.83 L176.15,435.8 L178.73,435.77 L181.31,435.73 L183.89,435.69 L186.47,435.65 L189.06,435.62 L191.64,435.57 L194.22,435.53 L196.8,435.49 L199.38,435.44 L201.96,435.4 L204.55,435.35 L207.13,435.3 L209.71,435.25 L212.29,435.2 L214.87,435.14 L217.45,435.09 L220.04,435.03 L222.62,434.97 L225.2,434.91 L227.78,434.84 L230.36,434.78 L232.94,434.71 L235.53,434.64 L238.11,434.56 L240.69,434.49 L243.27,434.41 L245.85,434.33 L248.43,434.24 L251.02,434.16 L253.6,434.06 L256.18,433.97 L258.76,433.87 L261.34,433.77 L263.92,433.67 L266.51,433.56 L269.09,433.45 L271.67,433.34 L274.25,433.22 L276.83,433.09 L279.41,432.96 L282,432.83 L284.58,432.69 L287.16,432.55 L289.74,432.4 L292.32,432.25 L294.91,432.08 L297.49,431.92 L300.07,431.74 L302.65,431.56 L305.23,431.38 L307.81,431.18 L310.4,430.98 L312.98,430.77 L315.56,430.55 L318.14,430.32 L320.72,430.09 L323.3,429.84 L325.89,429.58 L328.47,429.31 L331.05,429.03 L333.63,428.74 L336.21,428.44 L338.79,428.12 L341.38,427.79 L343.96,427.44 L346.54,427.08 L349.12,426.7 L351.7,426.3 L354.28,425.89 L356.87,425.45 L359.45,425 L362.03,424.52 L364.61,424.02 L367.19,423.5 L369.77,422.95 L372.36,422.37 L374.94,421.76 L377.52,421.12 L380.1,420.45 L382.68,419.74 L385.26,419 L387.85,418.21 L390.43,417.38 L393.01,416.51 L395.59,415.58 L398.17,414.6 L400.75,413.57 L403.34,412.47 L405.92,411.31 L408.5,410.08 L411.08,408.77 L413.66,407.37 L416.24,405.89 L418.83,404.32 L421.41,402.64 L423.99,400.85 L426.57,398.93 L429.15,396.88 L431.73,394.69 L434.32,392.34 L436.9,389.82 L439.48,387.12 L442.06,384.2 L444.64,381.07 L447.22,377.68" fill="none" stroke="#111" stroke-width="1.1" stroke-dasharray="10,4"/>
<rect x="136.75" y="431.74" width="6.5" height="6.5" fill="#ee14ee" stroke="#3a003a" stroke-width="0.8"/>
<rect x="175.48" y="433.73" width="6.5" height="6.5" fill="#ee14ee" stroke="#3a003a" stroke-width="0.8"/>
<rect x="210.35" y="432.22" width="6.5" height="6.5" fill="#ee14ee" stroke="#3a003a" stroke-width="0.8"/>
<rect x="235.21" y="431.26" width="6.5" height="6.5" fill="#ee14ee" stroke="#3a003a" stroke-width="0.8"/>
<rect x="270.8" y="429.76" width="6.5" height="6.5" fill="#ee14ee" stroke="#3a003a" stroke-width="0.8"/>
<rect x="316.18" y="426.87" width="6.5" height="6.5" fill="#ee14ee" stroke="#3a003a" stroke-width="0.8"/>
<rect x="376.35" y="417.37" width="6.5" height="6.5" fill="#ee14ee" stroke="#3a003a" stroke-width="0.8"/>
<rect x="436.94" y="383.08" width="6.5" height="6.5" fill="#ee14ee" stroke="#3a003a" stroke-width="0.8"/>
<path d="M136.3,429.19 L143.7,429.19 L140,435.79Z" fill="#127a22" stroke="#062a06" stroke-width="0.8"/>
<path d="M175.03,425.89 L182.43,425.89 L178.73,432.49Z" fill="#127a22" stroke="#062a06" stroke-width="0.8"/>
<path d="M209.9,419.03 L217.3,419.03 L213.6,425.63Z" fill="#127a22" stroke="#062a06" stroke-width="0.8"/>
<path d="M270.35,401.41 L277.75,401.41 L274.05,408.01Z" fill="#127a22" stroke="#062a06" stroke-width="0.8"/>
<path d="M315.73,364.71 L323.13,364.71 L319.43,371.31Z" fill="#127a22" stroke="#062a06" stroke-width="0.8"/>
<circle cx="86.46" cy="434.87" r="3.3" fill="#e01414" stroke="#3a0000" stroke-width="0.9"/>
<circle cx="140" cy="421.22" r="3.3" fill="#e01414" stroke="#3a0000" stroke-width="0.9"/>
<circle cx="178.73" cy="396.98" r="3.3" fill="#e01414" stroke="#3a0000" stroke-width="0.9"/>
<circle cx="213.6" cy="374.96" r="3.3" fill="#e01414" stroke="#3a0000" stroke-width="0.9"/>
<circle cx="238.46" cy="349.46" r="3.3" fill="#e01414" stroke="#3a0000" stroke-width="0.9"/>
<rect x="55.8" y="326" width="402.6" height="120.3" fill="none" stroke="#4c4c4c" stroke-width="1.2"/>
<line x1="116.4" y1="446.3" x2="116.4" y2="441.8" stroke="#4c4c4c" stroke-width="1.1" />
<line x1="116.4" y1="326" x2="116.4" y2="330.5" stroke="#4c4c4c" stroke-width="1.1" />
<line x1="317.7" y1="446.3" x2="317.7" y2="441.8" stroke="#4c4c4c" stroke-width="1.1" />
<line x1="317.7" y1="326" x2="317.7" y2="330.5" stroke="#4c4c4c" stroke-width="1.1" />
<line x1="71.74" y1="446.3" x2="71.74" y2="443.7" stroke="#4c4c4c" stroke-width="1.1" />
<line x1="71.74" y1="326" x2="71.74" y2="328.6" stroke="#4c4c4c" stroke-width="1.1" />
<line x1="85.22" y1="446.3" x2="85.22" y2="443.7" stroke="#4c4c4c" stroke-width="1.1" />
<line x1="85.22" y1="326" x2="85.22" y2="328.6" stroke="#4c4c4c" stroke-width="1.1" />
<line x1="96.89" y1="446.3" x2="96.89" y2="443.7" stroke="#4c4c4c" stroke-width="1.1" />
<line x1="96.89" y1="326" x2="96.89" y2="328.6" stroke="#4c4c4c" stroke-width="1.1" />
<line x1="107.19" y1="446.3" x2="107.19" y2="443.7" stroke="#4c4c4c" stroke-width="1.1" />
<line x1="107.19" y1="326" x2="107.19" y2="328.6" stroke="#4c4c4c" stroke-width="1.1" />
<line x1="176.99" y1="446.3" x2="176.99" y2="443.7" stroke="#4c4c4c" stroke-width="1.1" />
<line x1="176.99" y1="326" x2="176.99" y2="328.6" stroke="#4c4c4c" stroke-width="1.1" />
<line x1="212.44" y1="446.3" x2="212.44" y2="443.7" stroke="#4c4c4c" stroke-width="1.1" />
<line x1="212.44" y1="326" x2="212.44" y2="328.6" stroke="#4c4c4c" stroke-width="1.1" />
<line x1="237.59" y1="446.3" x2="237.59" y2="443.7" stroke="#4c4c4c" stroke-width="1.1" />
<line x1="237.59" y1="326" x2="237.59" y2="328.6" stroke="#4c4c4c" stroke-width="1.1" />
<line x1="257.1" y1="446.3" x2="257.1" y2="443.7" stroke="#4c4c4c" stroke-width="1.1" />
<line x1="257.1" y1="326" x2="257.1" y2="328.6" stroke="#4c4c4c" stroke-width="1.1" />
<line x1="273.04" y1="446.3" x2="273.04" y2="443.7" stroke="#4c4c4c" stroke-width="1.1" />
<line x1="273.04" y1="326" x2="273.04" y2="328.6" stroke="#4c4c4c" stroke-width="1.1" />
<line x1="286.52" y1="446.3" x2="286.52" y2="443.7" stroke="#4c4c4c" stroke-width="1.1" />
<line x1="286.52" y1="326" x2="286.52" y2="328.6" stroke="#4c4c4c" stroke-width="1.1" />
<line x1="298.19" y1="446.3" x2="298.19" y2="443.7" stroke="#4c4c4c" stroke-width="1.1" />
<line x1="298.19" y1="326" x2="298.19" y2="328.6" stroke="#4c4c4c" stroke-width="1.1" />
<line x1="308.49" y1="446.3" x2="308.49" y2="443.7" stroke="#4c4c4c" stroke-width="1.1" />
<line x1="308.49" y1="326" x2="308.49" y2="328.6" stroke="#4c4c4c" stroke-width="1.1" />
<line x1="378.29" y1="446.3" x2="378.29" y2="443.7" stroke="#4c4c4c" stroke-width="1.1" />
<line x1="378.29" y1="326" x2="378.29" y2="328.6" stroke="#4c4c4c" stroke-width="1.1" />
<line x1="413.74" y1="446.3" x2="413.74" y2="443.7" stroke="#4c4c4c" stroke-width="1.1" />
<line x1="413.74" y1="326" x2="413.74" y2="328.6" stroke="#4c4c4c" stroke-width="1.1" />
<line x1="438.89" y1="446.3" x2="438.89" y2="443.7" stroke="#4c4c4c" stroke-width="1.1" />
<line x1="438.89" y1="326" x2="438.89" y2="328.6" stroke="#4c4c4c" stroke-width="1.1" />
<line x1="55.8" y1="446.3" x2="63.3" y2="446.3" stroke="#4c4c4c" stroke-width="1.1" />
<line x1="55.8" y1="416.23" x2="63.3" y2="416.23" stroke="#4c4c4c" stroke-width="1.1" />
<line x1="55.8" y1="386.15" x2="63.3" y2="386.15" stroke="#4c4c4c" stroke-width="1.1" />
<line x1="55.8" y1="356.07" x2="63.3" y2="356.07" stroke="#4c4c4c" stroke-width="1.1" />
<line x1="55.8" y1="326" x2="63.3" y2="326" stroke="#4c4c4c" stroke-width="1.1" />
<line x1="55.8" y1="440.29" x2="60.3" y2="440.29" stroke="#4c4c4c" stroke-width="1.1" />
<line x1="55.8" y1="434.27" x2="60.3" y2="434.27" stroke="#4c4c4c" stroke-width="1.1" />
<line x1="55.8" y1="428.25" x2="60.3" y2="428.25" stroke="#4c4c4c" stroke-width="1.1" />
<line x1="55.8" y1="422.24" x2="60.3" y2="422.24" stroke="#4c4c4c" stroke-width="1.1" />
<line x1="55.8" y1="410.21" x2="60.3" y2="410.21" stroke="#4c4c4c" stroke-width="1.1" />
<line x1="55.8" y1="404.19" x2="60.3" y2="404.19" stroke="#4c4c4c" stroke-width="1.1" />
<line x1="55.8" y1="398.18" x2="60.3" y2="398.18" stroke="#4c4c4c" stroke-width="1.1" />
<line x1="55.8" y1="392.17" x2="60.3" y2="392.17" stroke="#4c4c4c" stroke-width="1.1" />
<line x1="55.8" y1="380.13" x2="60.3" y2="380.13" stroke="#4c4c4c" stroke-width="1.1" />
<line x1="55.8" y1="374.12" x2="60.3" y2="374.12" stroke="#4c4c4c" stroke-width="1.1" />
<line x1="55.8" y1="368.11" x2="60.3" y2="368.11" stroke="#4c4c4c" stroke-width="1.1" />
<line x1="55.8" y1="362.09" x2="60.3" y2="362.09" stroke="#4c4c4c" stroke-width="1.1" />
<line x1="55.8" y1="350.06" x2="60.3" y2="350.06" stroke="#4c4c4c" stroke-width="1.1" />
<line x1="55.8" y1="344.05" x2="60.3" y2="344.05" stroke="#4c4c4c" stroke-width="1.1" />
<line x1="55.8" y1="338.03" x2="60.3" y2="338.03" stroke="#4c4c4c" stroke-width="1.1" />
<line x1="55.8" y1="332.01" x2="60.3" y2="332.01" stroke="#4c4c4c" stroke-width="1.1" />
<line x1="458.4" y1="446.3" x2="450.9" y2="446.3" stroke="#4c4c4c" stroke-width="1.1" />
<line x1="458.4" y1="416.23" x2="450.9" y2="416.23" stroke="#4c4c4c" stroke-width="1.1" />
<line x1="458.4" y1="386.15" x2="450.9" y2="386.15" stroke="#4c4c4c" stroke-width="1.1" />
<line x1="458.4" y1="356.07" x2="450.9" y2="356.07" stroke="#4c4c4c" stroke-width="1.1" />
<line x1="458.4" y1="326" x2="450.9" y2="326" stroke="#4c4c4c" stroke-width="1.1" />
<line x1="458.4" y1="440.29" x2="453.9" y2="440.29" stroke="#4c4c4c" stroke-width="1.1" />
<line x1="458.4" y1="434.27" x2="453.9" y2="434.27" stroke="#4c4c4c" stroke-width="1.1" />
<line x1="458.4" y1="428.25" x2="453.9" y2="428.25" stroke="#4c4c4c" stroke-width="1.1" />
<line x1="458.4" y1="422.24" x2="453.9" y2="422.24" stroke="#4c4c4c" stroke-width="1.1" />
<line x1="458.4" y1="410.21" x2="453.9" y2="410.21" stroke="#4c4c4c" stroke-width="1.1" />
<line x1="458.4" y1="404.19" x2="453.9" y2="404.19" stroke="#4c4c4c" stroke-width="1.1" />
<line x1="458.4" y1="398.18" x2="453.9" y2="398.18" stroke="#4c4c4c" stroke-width="1.1" />
<line x1="458.4" y1="392.17" x2="453.9" y2="392.17" stroke="#4c4c4c" stroke-width="1.1" />
<line x1="458.4" y1="380.13" x2="453.9" y2="380.13" stroke="#4c4c4c" stroke-width="1.1" />
<line x1="458.4" y1="374.12" x2="453.9" y2="374.12" stroke="#4c4c4c" stroke-width="1.1" />
<line x1="458.4" y1="368.11" x2="453.9" y2="368.11" stroke="#4c4c4c" stroke-width="1.1" />
<line x1="458.4" y1="362.09" x2="453.9" y2="362.09" stroke="#4c4c4c" stroke-width="1.1" />
<line x1="458.4" y1="350.06" x2="453.9" y2="350.06" stroke="#4c4c4c" stroke-width="1.1" />
<line x1="458.4" y1="344.05" x2="453.9" y2="344.05" stroke="#4c4c4c" stroke-width="1.1" />
<line x1="458.4" y1="338.03" x2="453.9" y2="338.03" stroke="#4c4c4c" stroke-width="1.1" />
<line x1="458.4" y1="332.01" x2="453.9" y2="332.01" stroke="#4c4c4c" stroke-width="1.1" />
<text x="48.3" y="450.7" font-size="12.3" text-anchor="end" fill="#1e1e1e" stroke="#1e1e1e" >0.00</text>
<text x="48.3" y="420.62" font-size="12.3" text-anchor="end" fill="#1e1e1e" stroke="#1e1e1e" >0.05</text>
<text x="48.3" y="390.55" font-size="12.3" text-anchor="end" fill="#1e1e1e" stroke="#1e1e1e" >0.10</text>
<text x="48.3" y="360.47" font-size="12.3" text-anchor="end" fill="#1e1e1e" stroke="#1e1e1e" >0.15</text>
<text x="48.3" y="330.4" font-size="12.3" text-anchor="end" fill="#1e1e1e" stroke="#1e1e1e" >0.20</text>
<text x="116.4" y="464.2" font-size="12.3" text-anchor="middle" fill="#1e1e1e" stroke="#1e1e1e" >0.1</text>
<text x="317.7" y="464.2" font-size="12.3" text-anchor="middle" fill="#1e1e1e" stroke="#1e1e1e" >1</text>
<text x="435.6" y="348.5" font-size="18.5" text-anchor="middle" fill="#1e1e1e" stroke="#1e1e1e" >(c)</text>
<text x="257.7" y="480" font-size="15" text-anchor="middle" fill="#1e1e1e" stroke="#1e1e1e" >Dose (dpa)</text>
<text transform="translate(11.6,384.7) rotate(-90)" font-size="15.6" text-anchor="middle" fill="#1e1e1e" stroke="#1e1e1e">Relative disorder</text>
<text x="168.5" y="362.6" font-size="15.7" text-anchor="start" fill="#b41c2c" stroke="#b41c2c" >Pure Ni</text>
<text x="264.1" y="383.5" font-size="15.7" text-anchor="start" fill="#1f4430" stroke="#1f4430" >NiFe</text>
<text x="351" y="397.8" font-size="15.7" text-anchor="start" fill="#ba28ba" stroke="#ba28ba" >NiFeCoCr</text>
</svg>
</body></html>
